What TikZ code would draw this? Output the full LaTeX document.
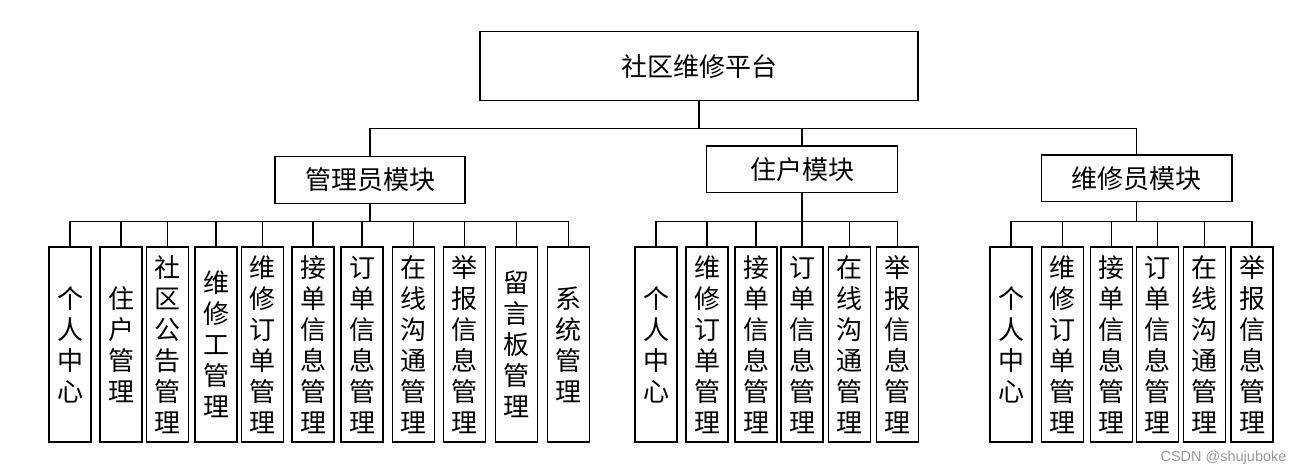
\documentclass[tikz,border=0pt]{standalone}
\usepackage{fontspec}
\newfontfamily\cjk{Noto Sans CJK SC}
\setsansfont{Liberation Sans}
\tikzset{
  box/.style={draw,line width=1.3pt,inner sep=0pt,font=\cjk\fontsize{26}{31}\selectfont},
  leaf/.style={box,minimum width=42,minimum height=195,align=center},
  link/.style={line width=1.3pt}
}
\begin{document}
\begin{tikzpicture}[x=1pt,y=-1pt]
  \useasboundingbox (0,0) rectangle (1299,475);
  % top and modules
  \node[box,minimum width=438,minimum height=69] (plat) at (699,66.3) {社区维修平台};
  \node[box,minimum width=190,minimum height=46.6] (admin) at (370,180) {管理员模块};
  \node[box,minimum width=190.7,minimum height=46.7] (res) at (802,169.3) {住户模块};
  \node[box,minimum width=190.6,minimum height=46.7] (rep) at (1136.7,178.3) {维修员模块};
  \foreach \m in {admin,res,rep}
    \draw[link] (plat.south) -- ++(0,27.3) -| (\m.north);
  % admin leaves
  \node[leaf] (a1) at (70,344.5) {个\\人\\中\\心};
  \node[leaf] (a2) at (121,344.5) {住\\户\\管\\理};
  \node[leaf] (a3) at (167.5,344.5) {社\\区\\公\\告\\管\\理};
  \node[leaf] (a4) at (216,344.5) {维\\修\\工\\管\\理};
  \node[leaf] (a5) at (262.5,344.5) {维\\修\\订\\单\\管\\理};
  \node[leaf] (a6) at (313,344.5) {接\\单\\信\\息\\管\\理};
  \node[leaf] (a7) at (362,344.5) {订\\单\\信\\息\\管\\理};
  \node[leaf] (a8) at (413.3,344.5) {在\\线\\沟\\通\\管\\理};
  \node[leaf] (a9) at (464.3,344.5) {举\\报\\信\\息\\管\\理};
  \node[leaf] (a10) at (516.5,344.5) {留\\言\\板\\管\\理};
  \node[leaf] (a11) at (568.8,344.5) {系\\统\\管\\理};
  \foreach \n in {a1,a2,a3,a4,a5,a6,a7,a8,a9,a10,a11}
    \draw[link] (admin.south) -- ++(0,17.4) -| (\n.north);
  % resident leaves
  \node[leaf] (r1) at (656,344.5) {个\\人\\中\\心};
  \node[leaf] (r2) at (707,344.5) {维\\修\\订\\单\\管\\理};
  \node[leaf] (r3) at (756,344.5) {接\\单\\信\\息\\管\\理};
  \node[leaf] (r4) at (802,344.5) {订\\单\\信\\息\\管\\理};
  \node[leaf] (r5) at (849.5,344.5) {在\\线\\沟\\通\\管\\理};
  \node[leaf] (r6) at (897.2,344.5) {举\\报\\信\\息\\管\\理};
  \foreach \n in {r1,r2,r3,r4,r5,r6}
    \draw[link] (res.south) -- ++(0,28) -| (\n.north);
  % repairman leaves
  \node[leaf] (w1) at (1011,344.5) {个\\人\\中\\心};
  \node[leaf] (w2) at (1062.4,344.5) {维\\修\\订\\单\\管\\理};
  \node[leaf] (w3) at (1111.3,344.5) {接\\单\\信\\息\\管\\理};
  \node[leaf] (w4) at (1157.5,344.5) {订\\单\\信\\息\\管\\理};
  \node[leaf] (w5) at (1204.7,344.5) {在\\线\\沟\\通\\管\\理};
  \node[leaf] (w6) at (1252.1,344.5) {举\\报\\信\\息\\管\\理};
  \foreach \n in {w1,w2,w3,w4,w5,w6}
    \draw[link] (rep.south) -- ++(0,19) -| (\n.north);
  \node[text=gray!80,font=\sffamily\fontsize{14.5}{16}\selectfont] (mark) at (1223.5,457.5) {CSDN @shujuboke};
\end{tikzpicture}
\end{document}
